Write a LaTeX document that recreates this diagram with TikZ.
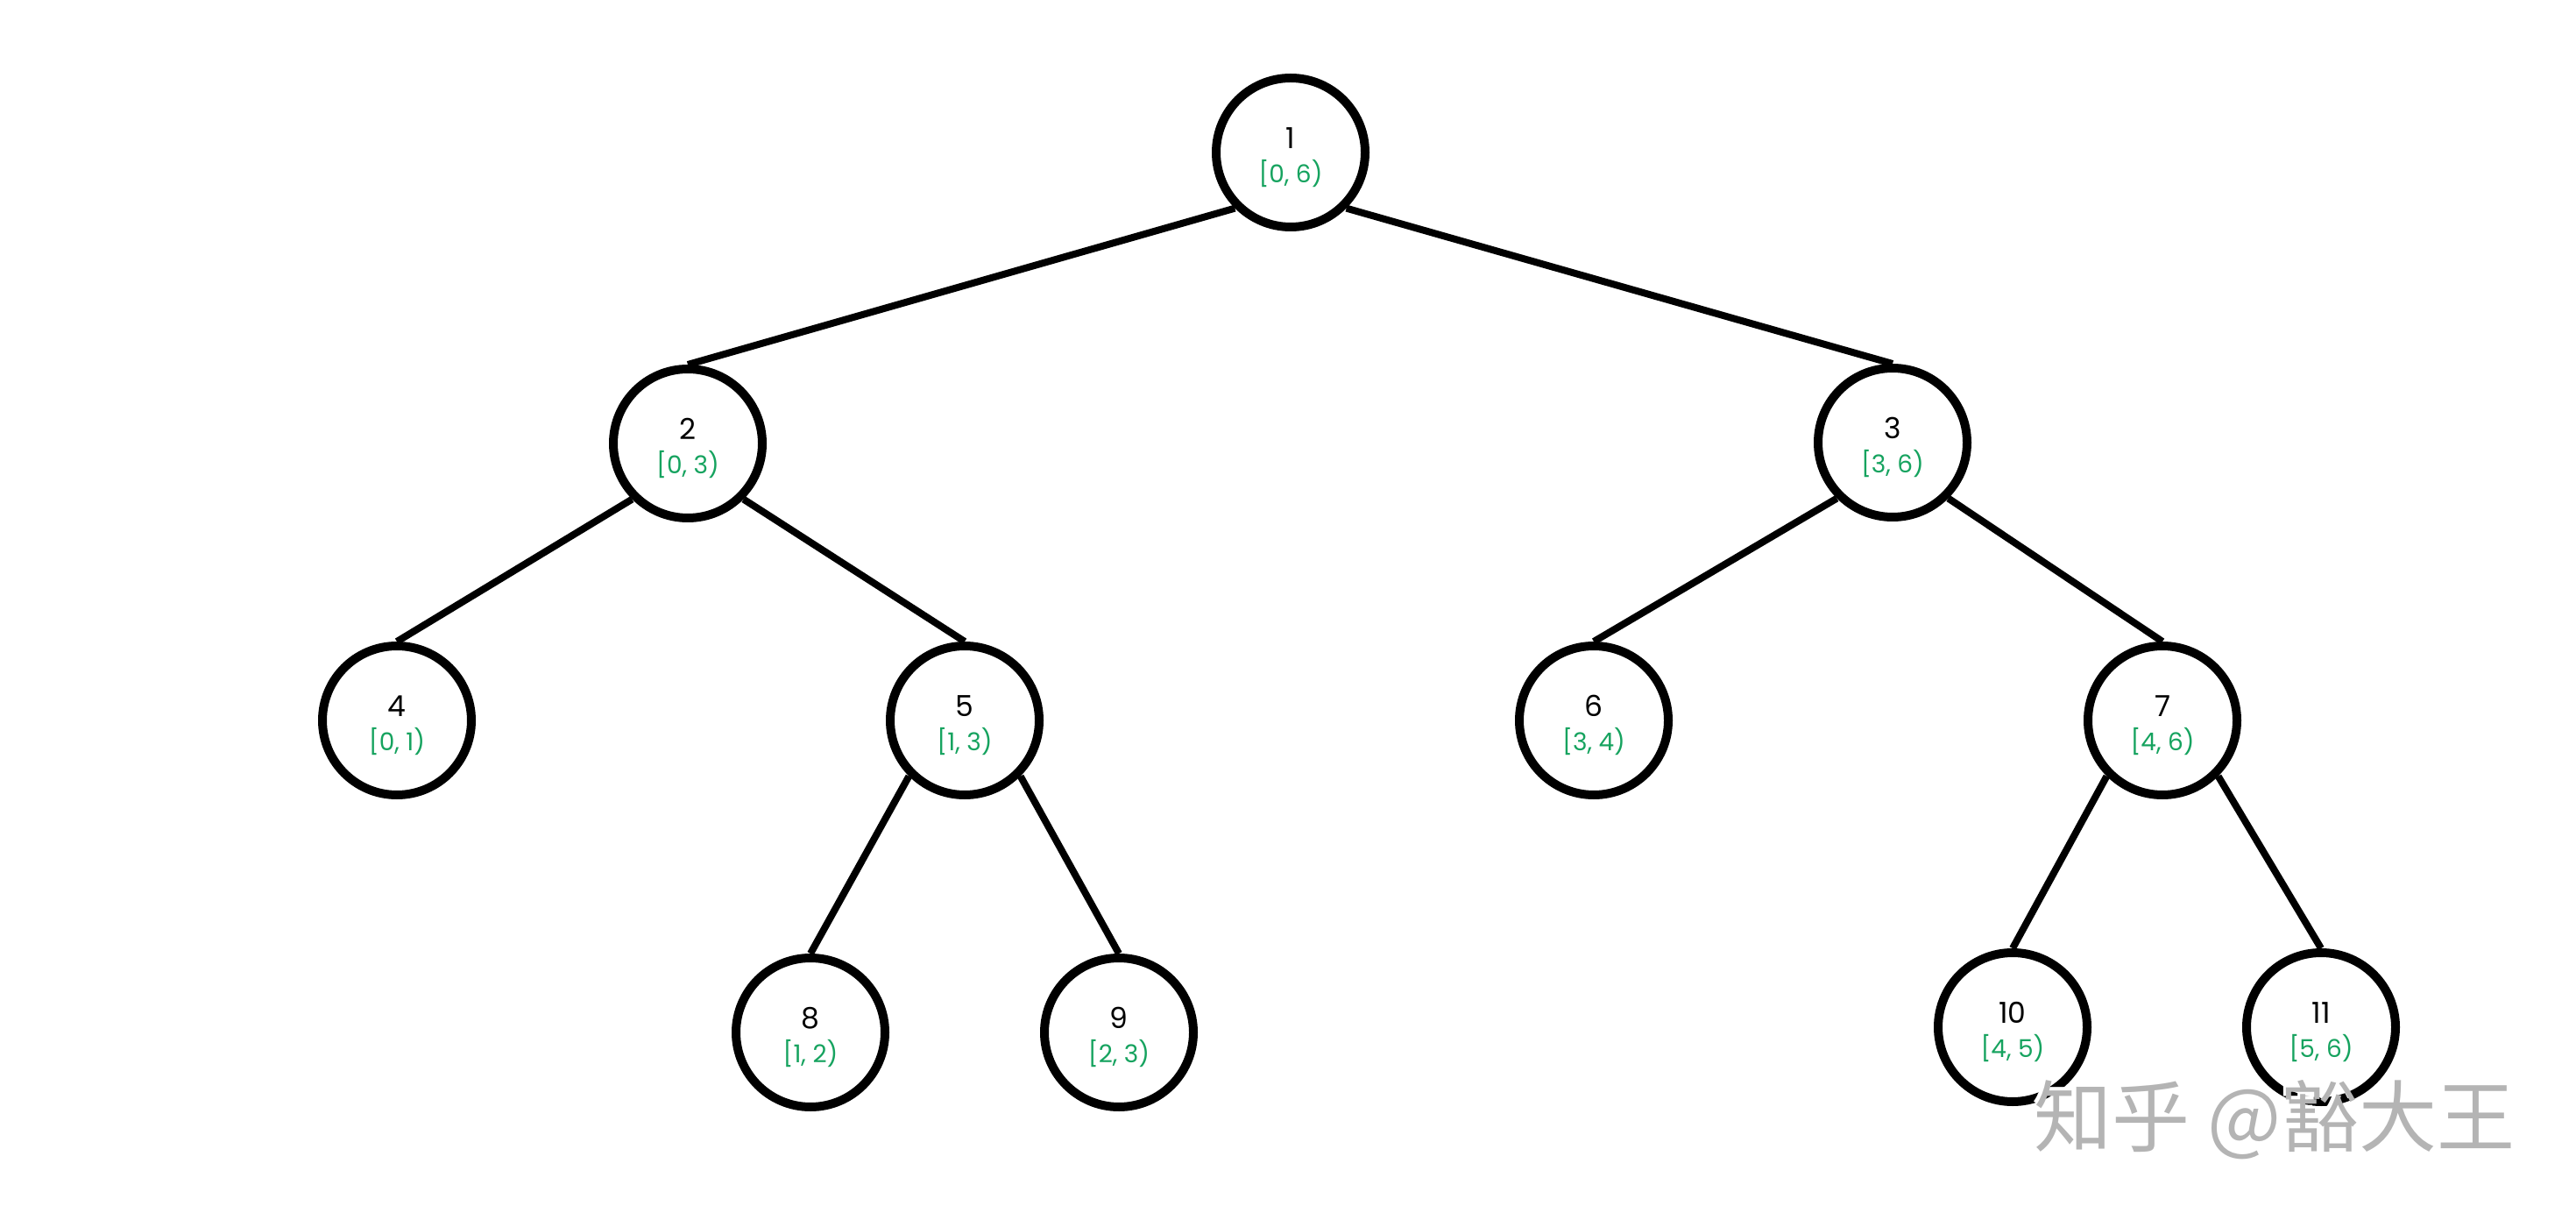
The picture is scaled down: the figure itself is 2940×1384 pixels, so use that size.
\documentclass[tikz,border=0pt]{standalone}
\usepackage{fontspec}
\setmainfont{Poppins}
\newfontfamily\cjkfont{Noto Sans CJK SC}
\definecolor{ivgreen}{RGB}{22,163,95}
\definecolor{wmgray}{RGB}{180,180,180}
\newcommand\mytnode[5]{%
  \node[tnode] (#1) at (#2,#3) {};
  \node[numtxt] (#1num) at ([yshift=2.25pt]#1.center) {#4};
  \node[ivtxt] (#1iv) at ([yshift=-17.25pt]#1.center) {#5};
}
\begin{document}
\begin{tikzpicture}[x=0.5pt,y=-0.5pt,
  tnode/.style={circle,draw=black,line width=5pt,minimum size=85pt,inner sep=0pt,fill=white},
  edge/.style={line width=4pt,black},
  numtxt/.style={font=\fontsize{16.5}{19}\selectfont,inner sep=0pt,anchor=base},
  ivtxt/.style={font=\fontsize{14}{16}\selectfont,text=ivgreen,inner sep=0pt,anchor=base},
  wm/.style={font=\cjkfont\fontsize{44.5}{48}\selectfont,inner sep=0pt,anchor=west}]
\useasboundingbox[fill=white] (0,0) rectangle (2940,1384);
\mytnode{n1}{1473}{174}{1}{[0, 6)}
\mytnode{n2}{785}{506}{2}{[0, 3)}
\mytnode{n3}{2160}{505}{3}{[3, 6)}
\mytnode{n4}{453}{822}{4}{[0, 1)}
\mytnode{n5}{1101}{822}{5}{[1, 3)}
\mytnode{n6}{1819}{822}{6}{[3, 4)}
\mytnode{n7}{2468}{822}{7}{[4, 6)}
\mytnode{n8}{925}{1178}{8}{[1, 2)}
\mytnode{n9}{1277}{1178}{9}{[2, 3)}
\mytnode{n10}{2297}{1172}{10}{[4, 5)}
\mytnode{n11}{2649}{1172}{11}{[5, 6)}
\draw[edge] (n1.south west) -- (n2.north);
\draw[edge] (n1.south east) -- (n3.north);
\draw[edge] (n2.south west) -- (n4.north);
\draw[edge] (n2.south east) -- (n5.north);
\draw[edge] (n3.south west) -- (n6.north);
\draw[edge] (n3.south east) -- (n7.north);
\draw[edge] (n5.south west) -- (n8.north);
\draw[edge] (n5.south east) -- (n9.north);
\draw[edge] (n7.south west) -- (n10.north);
\draw[edge] (n7.south east) -- (n11.north);
\node[wm,text=white] (wmshadow) at (2318,1274) {知乎 @豁大王};
\node[wm,text=wmgray] (wmtext) at (2321,1278) {知乎 @豁大王};
\end{tikzpicture}
\end{document}
